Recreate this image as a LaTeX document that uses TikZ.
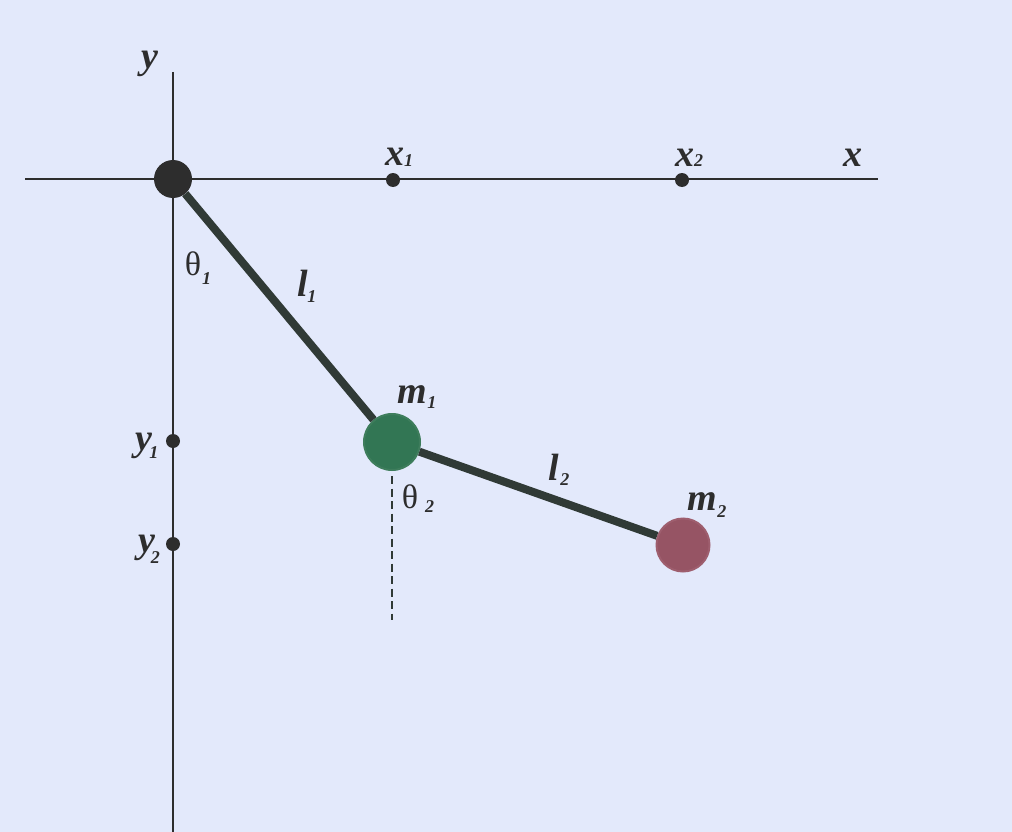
\documentclass[tikz,border=0pt]{standalone}
\usepackage{fontspec}
\setmainfont{Liberation Serif}
\definecolor{bgc}{RGB}{227,233,251}
\definecolor{ink}{RGB}{45,45,45}
\definecolor{rod}{RGB}{48,58,54}
\definecolor{gm}{RGB}{50,118,84}
\definecolor{gmb}{RGB}{62,125,92}
\definecolor{rm}{RGB}{150,84,100}
\definecolor{rmb}{RGB}{158,94,110}
% letter, subscript, kern, lowering
\newcommand{\lbl}[4]{{\fontsize{38}{40}\selectfont\bfseries\itshape #1\kern#3\raisebox{-#4}{\fontsize{18}{18}\selectfont #2}}}
\newcommand{\thl}[3]{{\fontsize{34}{36}\selectfont θ\kern#2\raisebox{-#3}{\fontsize{18}{18}\selectfont\bfseries\itshape #1}}}
\begin{document}
\begin{tikzpicture}[x=1pt,y=-1pt,
  axis/.style={draw=ink,line width=1.6pt},
  dotn/.style={circle,fill=ink,inner sep=0pt,minimum size=14pt},
  rodl/.style={draw=rod,line width=8pt},
  txt/.style={text=ink,inner sep=0pt,anchor=base}]
\fill[bgc] (0,0) rectangle (1012,832);
\useasboundingbox (0,0) rectangle (1012,832);
\coordinate (xl) at (25,179);
\coordinate (xr) at (878,179);
\coordinate (yt) at (173,72);
\coordinate (yb) at (173,832);
\draw[axis] (xl) -- (xr);
\draw[axis] (yt) -- (yb);
\node[dotn] (x1) at (393,180) {};
\node[dotn] (x2) at (682,180) {};
\node[dotn] (y1) at (173,441) {};
\node[dotn] (y2) at (173,544) {};
\node[circle,fill=ink,inner sep=0pt,minimum size=38pt] (O) at (173,179) {};
\node[circle,fill=gm,draw=gmb,line width=2pt,inner sep=0pt,minimum size=56pt] (m1) at (392,442) {};
\node[circle,fill=rm,draw=rmb,line width=2pt,inner sep=0pt,minimum size=53pt] (m2) at (683,545) {};
\draw[rodl] (O) -- (m1);
\draw[rodl] (m1) -- (m2);
\coordinate (d2) at (392,620);
\draw[draw=rod,line width=2.8pt,dash pattern=on 8pt off 4.5pt] (m1.south) ++(0,5) -- (d2);
% labels
\node[txt] (ly) at (150,69) {\fontsize{38}{40}\selectfont\bfseries\itshape y};
\node[txt] (lx) at (853,166) {\fontsize{38}{40}\selectfont\bfseries\itshape x};
\node[txt] (lx1) at (399,165) {\lbl{x}{1}{0pt}{1pt}};
\node[txt] (lx2) at (689,166) {\lbl{x}{2}{0pt}{1pt}};
\node[txt] (lt1) at (198,275) {\thl{1}{1pt}{9pt}};
\node[txt] (ll1) at (307,296) {\lbl{l}{1}{-1pt}{6pt}};
\node[txt] (lm1) at (417,403) {\lbl{m}{1}{0pt}{5pt}};
\node[txt] (ll2) at (559,480) {\lbl{l}{2}{1pt}{5pt}};
\node[txt] (lm2) at (707,510) {\lbl{m}{2}{0pt}{7pt}};
\node[txt] (lt2) at (418,508) {\thl{2}{7pt}{4pt}};
\node[txt] (ly1) at (147,450) {\lbl{y}{1}{-3pt}{8pt}};
\node[txt] (ly2) at (149,552) {\lbl{y}{2}{-4pt}{11pt}};
\end{tikzpicture}
\end{document}
